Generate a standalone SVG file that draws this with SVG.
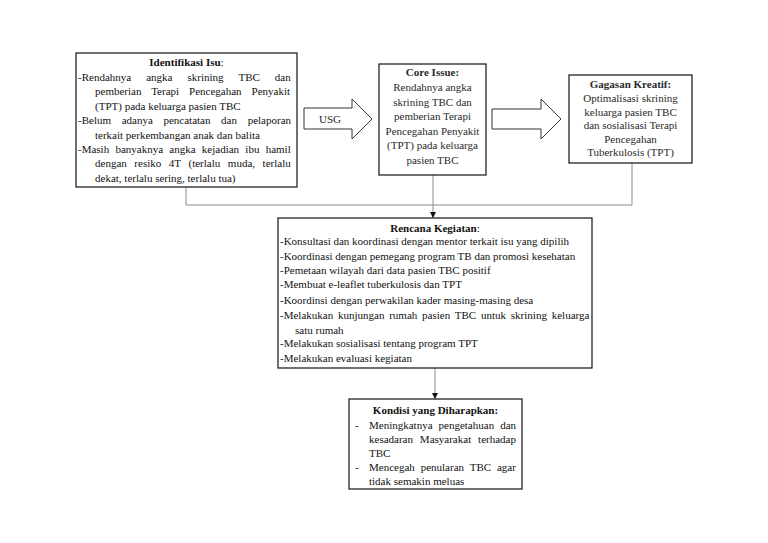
<svg xmlns="http://www.w3.org/2000/svg" width="768" height="543" viewBox="0 0 768 543">
<style>
.box{fill:#fff;stroke:#111;stroke-width:1.2}
.t{font-family:"Liberation Serif","Times New Roman",serif;font-size:11px;fill:#111}
.c{text-anchor:middle}
.b{font-weight:bold}
.g{fill:#2a2a2a}
.conn{fill:none;stroke:#8c8c8c;stroke-width:1}
.blk{fill:#fff;stroke:#333;stroke-width:1}
</style>
<defs>
<marker id="ah" viewBox="0 0 8 8" refX="8" refY="4" markerWidth="6" markerHeight="6" orient="auto" markerUnits="userSpaceOnUse">
<path d="M0,0 L8,4 L0,8 z" fill="#111"/>
</marker>
</defs>
<rect width="768" height="543" fill="#fff"/>
<g id="connectors">
<polyline class="conn" points="186,187 186,205 632,205 632,163"/>
<line class="conn" x1="433" y1="175" x2="433" y2="218" marker-end="url(#ah)"/>
<line class="conn" x1="435" y1="368" x2="435" y2="399" marker-end="url(#ah)"/>
</g>
<g id="identifikasi-isu">
<rect class="box" x="76" y="53" width="221" height="134"/>
<text class="t c" x="186.5" y="66"><tspan class="b">Identifikasi Isu</tspan>:</text>
<text class="t" x="78" y="81" style="word-spacing:12.3px">-Rendahnya angka skrining TBC dan</text>
<text class="t" x="95" y="95.4" style="word-spacing:7.2px">pemberian Terapi Pencegahan Penyakit</text>
<text class="t" x="95" y="109.8">(TPT) pada keluarga pasien TBC</text>
<text class="t" x="78" y="124.2" style="word-spacing:7.9px">-Belum adanya pencatatan dan pelaporan</text>
<text class="t" x="95" y="138.6">terkait perkembangan anak dan balita</text>
<text class="t" x="78" y="153" style="word-spacing:3.5px">-Masih banyaknya angka kejadian ibu hamil</text>
<text class="t" x="95" y="167.4" style="word-spacing:4.85px">dengan resiko 4T (terlalu muda, terlalu</text>
<text class="t" x="95" y="181.8">dekat, terlalu sering, terlalu tua)</text>
</g>
<g id="usg-arrow">
<polygon class="blk" points="304,108 352,108 352,99 372,119 352,139 352,129 304,129"/>
<text class="t c g" x="330" y="123">USG</text>
</g>
<g id="core-issue">
<rect class="box" x="379" y="64" width="107" height="111"/>
<text class="t c b g" x="432.5" y="76">Core Issue:</text>
<text class="t c g" x="432.5" y="91">Rendahnya angka</text>
<text class="t c g" x="432.5" y="105.5">skrining TBC dan</text>
<text class="t c g" x="432.5" y="120">pemberian Terapi</text>
<text class="t c g" x="432.5" y="134.5">Pencegahan Penyakit</text>
<text class="t c g" x="432.5" y="149">(TPT) pada keluarga</text>
<text class="t c g" x="432.5" y="163.5">pasien TBC</text>
</g>
<g id="arrow-2">
<polygon class="blk" points="492,109 541,109 541,99 561,119 541,139 541,129 492,129"/>
</g>
<g id="gagasan-kreatif">
<rect class="box" x="569" y="75" width="123" height="88"/>
<text class="t c b g" x="630.5" y="88">Gagasan Kreatif:</text>
<text class="t c g" x="630.5" y="102">Optimalisasi skrining</text>
<text class="t c g" x="630.5" y="115.5">keluarga pasien TBC</text>
<text class="t c g" x="630.5" y="129">dan sosialisasi Terapi</text>
<text class="t c g" x="630.5" y="142.5">Pencegahan</text>
<text class="t c g" x="630.5" y="156">Tuberkulosis (TPT)</text>
</g>
<g id="rencana-kegiatan">
<rect class="box" x="278" y="218" width="314" height="150"/>
<text class="t c" x="435" y="231.5"><tspan class="b">Rencana Kegiatan</tspan>:</text>
<text class="t" x="280" y="245">-Konsultasi dan koordinasi dengan mentor terkait isu yang dipilih</text>
<text class="t" x="280" y="259.5">-Koordinasi dengan pemegang program TB dan promosi kesehatan</text>
<text class="t" x="280" y="274">-Pemetaan wilayah dari data pasien TBC positif</text>
<text class="t" x="280" y="288">-Membuat e-leaflet tuberkulosis dan TPT</text>
<text class="t" x="280" y="303.5">-Koordinsi dengan perwakilan kader masing-masing desa</text>
<text class="t" x="280" y="318.5" style="word-spacing:2.05px">-Melakukan kunjungan rumah pasien TBC untuk skrining keluarga</text>
<text class="t" x="295" y="333.5">satu rumah</text>
<text class="t" x="280" y="347">-Melakukan sosialisasi tentang program TPT</text>
<text class="t" x="280" y="362">-Melakukan evaluasi kegiatan</text>
</g>
<g id="kondisi-diharapkan">
<rect class="box" x="349" y="399" width="173" height="90"/>
<text class="t c b" x="435.5" y="414">Kondisi yang Diharapkan:</text>
<text class="t" x="355" y="428.5">-</text>
<text class="t" x="369" y="428.5" style="word-spacing:3.25px">Meningkatnya pengetahuan dan</text>
<text class="t" x="369" y="442.5" style="word-spacing:4.15px">kesadaran Masyarakat terhadap</text>
<text class="t" x="369" y="456.5">TBC</text>
<text class="t" x="355" y="470.5">-</text>
<text class="t" x="369" y="470.5" style="word-spacing:3.1px">Mencegah penularan TBC agar</text>
<text class="t" x="369" y="484.5">tidak semakin meluas</text>
</g>
</svg>
